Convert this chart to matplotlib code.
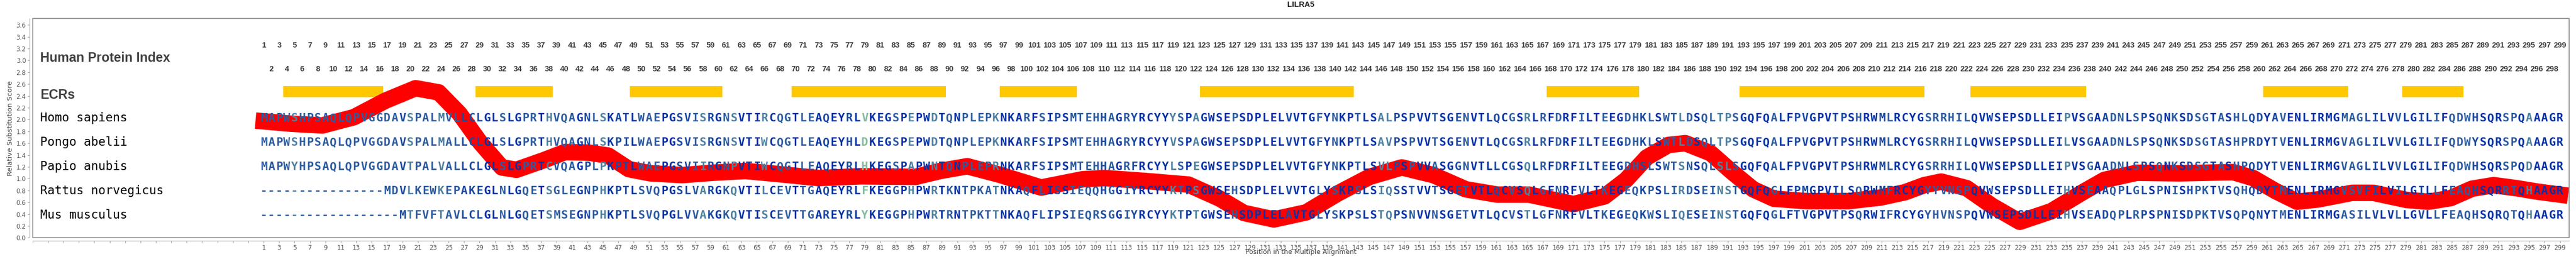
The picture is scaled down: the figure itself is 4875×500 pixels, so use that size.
import matplotlib
matplotlib.use('Agg')
import matplotlib.pyplot as plt
from matplotlib.patches import Rectangle
from collections import Counter

# ---------------- data ----------------
title = 'LILRA5'
species = ['Homo sapiens', 'Pongo abelii', 'Papio anubis', 'Rattus norvegicus', 'Mus musculus']

seq_homo = ''.join([
    'MAPWSHPSAQLQPVGGDAVSPALMVLLCLGLSLGPRTHVQAGN',
    'LSKATLWAEPGSVISRGNSVTIRCQGTLEAQEYRLVKEGSPE',
    'PWDTQNPLEPKNKARFSIPSMTEHHAGRYRCYYYSPAGWSEPS',
    'DPLELVVTGFYNKPTLSALPSPVVTSGENVTLQCGSRLRFDRF',
    'ILTEEGDHKLSWTLDSQLTPSGQFQALFPVGPVTPSHRWMLR',
    'CYGSRRHILQVWSEPSDLLEIPVSGAADNLSPSQNKSDSGTAS',
    'HLQDYAVENLIRMGMAGLILVVLGILIFQDWHSQRSPQAAAGR'])
seq_pongo = ''.join([
    'MAPWSHPSAQLQPVGGDAVSPALMALLCLGLSLGPRTHVQAGN',
    'LSKPILWAEPGSVISRGNSVTIWCQGTLEAQEYHLDKEGSPE',
    'PWDTQNPLEPKNKARFSIPSMTEHHAGRYRCYYVSPAGWSEPS',
    'DPLELVVTGFYNKPTLSAVPSPVVTSGENVTLQCGSRLRFDRF',
    'ILTEEGDHKLSWTLDSQLTPSGQFQALFPVGPVTPSHRWMLR',
    'CYGSRRHILQVWSEPSDLLEILVSGAADNLSPSQNKSDSGTAS',
    'HPRDYTVENLIRMGVAGLILVVLGILIFQDWYSQRSPQAAAGR'])
seq_papio = ''.join([
    'MAPWYHPSAQLQPVGGDAVTPALVALLCLGLSLGPRTCVQAGP',
    'LPKPTLWAEPGSVIIRGNPVTIWCQGTLEAQEYRLHKEGSPA',
    'PWNTQNPLEPRNKARFSIPSMTEHHAGRFRCYYLSPEGWSEPS',
    'DPLELVVTGFYNKPTLSVLPSPVVASGGNVTLLCGSQLRFDRF',
    'ILTEEGDHSLSWTSNSQLSLSGQFQALFPVGPVTPSHRWMLR',
    'CYGSRRHILQVWSEPSDLLEIPVSGAADNLSPSQNKSDSGTAS',
    'HPQDYTVENLIRMGVAGLILVVLGILIFQDWHSQRSPQDAAGR'])
seq_rattus = ''.join([
    '----------------MDVLKEWKEPAKEGLNLGQETSGLEGN',
    'PHKPTLSVQPGSLVARGKQVTILCEVTTGAQEYRLFKEGGPH',
    'PWRTKNTPKATNKAQFLISSIEQQHGGIYRCYYKTPSGWSEHS',
    'DPLELVVTGLYSKPSLSIQSSTVVTSGETVTLQCVSQLGFNRF',
    'VLTKEGEQKPSLIRDSEINSTGQFQGLFPMGPVILSQRWMFR',
    'CYGYYVNSPQVWSEPSDLLEIHVSEAAQPLGLSPNISHPKTVS',
    'QHQDYTMENLIRMGVSVFILVILGILLFEAQHSQRRTQHAAGR'])
seq_mus = ''.join([
    '------------------MTFVFTAVLCLGLNLGQETSMSEGN',
    'PHKPTLSVQPGLVVAKGKQVTISCEVTTGAREYRLYKEGGPH',
    'PWRTRNTPKTTNKAQFLIPSIEQRSGGIYRCYYKTPTGWSEHS',
    'DPLELAVTGLYSKPSLSTQPSNVVNSGETVTLQCVSTLGFNRF',
    'VLTKEGEQKWSLIQESEINSTGQFQGLFTVGPVTPSQRWIFR',
    'CYGYHVNSPQVWSEPSDLLEIHVSEADQPLRPSPNISDPKTVS',
    'QPQNYTMENLIRMGASILVLVLLGVLLFEAQHSQRQTQHAAGR'])
sequences = [seq_homo, seq_pongo, seq_papio, seq_rattus, seq_mus]

ecr_start = [4, 29, 49, 70, 97, 123, 168, 193, 223, 261, 279]
ecr_end = [16, 38, 60, 89, 106, 142, 179, 216, 237, 271, 286]

score_pos = [1, 4.5, 8.6, 12.7, 16.8, 20.7, 23.7, 26.4, 29.1, 31.9, 33.8, 37.3, 40.1,
             43.2, 45.7, 48.4, 51.2, 55.3, 59.3, 63.5, 67.6, 73, 78.5, 85.6, 88.8,
             92.3, 96.4, 101.9, 107.3, 110.1, 115.5, 121, 125.1, 128.2, 132.1, 136.3,
             140.4, 144.5, 148.7, 152.8, 157, 161.1, 165.2, 171, 175, 177.8, 180.5,
             183.3, 185.5, 188.8, 191.5, 194.3, 197, 201.2, 206.7, 210.8, 214, 216.5,
             218.7, 222, 225.3, 228.9, 233, 237.2, 239.9, 244.1, 249.6, 256.6, 259.2,
             262.1, 264.9, 267.7, 272, 274.8, 279.1, 281.9, 284.8, 287.6, 290.4, 293.3,
             296.1, 299]
score_val = [1.97, 1.93, 1.90, 2.04, 2.32, 2.53, 2.46, 2.10, 1.61, 1.19, 1.15, 1.31, 1.45,
             1.44, 1.39, 1.16, 1.09, 1.06, 1.10, 1.13, 1.08, 1.01, 1.04, 1.03, 1.13,
             1.21, 1.07, 0.85, 0.99, 1.01, 0.96, 0.90, 0.66, 0.42, 0.31, 0.43,
             0.75, 1.03, 1.19, 1.06, 0.82, 0.73, 0.73, 0.57, 0.70, 0.98, 1.36,
             1.57, 1.60, 1.43, 1.12, 0.82, 0.66, 0.62, 0.62, 0.68, 0.77, 0.89,
             0.95, 0.84, 0.54, 0.27, 0.45, 0.78, 0.98, 1.10, 1.09, 1.11, 1.01,
             0.79, 0.61, 0.65, 0.76, 0.76, 0.64, 0.61, 0.67, 0.83, 0.89, 0.84,
             0.78, 0.73]

n_cols = len(seq_homo)
for s in sequences:
    assert len(s) == n_cols, len(s)

# ---------------- layout / style ----------------
W, H = 4875, 500
L_px, R_px, T_px, B_px = 61.7, 4862.0, 35.0, 450.3
row_base = [1.965, 1.555, 1.145, 0.735, 0.325]
idx_base = [3.22, 2.815]
label_x = -28.0
palette = {5: '#0532A6', 4: '#1C4AA0', 3: '#2D5C9F', 2: '#4F81A0', 1: '#86B9A0'}

fig = plt.figure(figsize=(W / 100, H / 100), dpi=100)
ax = fig.add_axes([L_px / W, 1 - B_px / H, (R_px - L_px) / W, (B_px - T_px) / H])
ax.set_xlim(-29, 300.2)
ax.set_ylim(0, 3.71)

# ECR bars
for s, e in zip(ecr_start, ecr_end):
    ax.add_patch(Rectangle((s - 0.5, 2.38), e - s + 1, 0.19, facecolor='#FFC800',
                           edgecolor='none', zorder=1))

# substitution score curve
ax.plot(score_pos, score_val, color='#FF0000', lw=22.5, solid_capstyle='projecting',
        solid_joinstyle='round', zorder=2)

# column conservation colours
col_colors = []
for j in range(n_cols):
    chars = [s[j] for s in sequences if s[j] != '-']
    m = Counter(chars).most_common(1)[0][1] if chars else 1
    col_colors.append(palette[m])

# alignment letters
for r, s in enumerate(sequences):
    for j, ch in enumerate(s):
        ax.text(j + 1, row_base[r], ch, ha='center', va='baseline', fontsize=15.5,
                fontweight='bold', family='DejaVu Sans Mono', color=col_colors[j],
                zorder=3)

# human protein index
hidx = 0
for j, ch in enumerate(seq_homo):
    if ch == '-':
        continue
    hidx += 1
    yb = idx_base[0] if hidx % 2 == 1 else idx_base[1]
    ax.text(j + 1, yb, str(hidx), ha='center', va='baseline', fontsize=10.5,
            fontweight='bold', family='Liberation Sans', color='#3C3C3C', zorder=3)

# row labels
ax.text(label_x, 2.976, 'Human Protein Index', ha='left', va='baseline', fontsize=17.7,
        fontweight='bold', family='Liberation Sans', color='#404040', zorder=4)
ax.text(label_x, 2.356, 'ECRs', ha='left', va='baseline', fontsize=17.7,
        fontweight='bold', family='Liberation Sans', color='#404040', zorder=4)
for r, name in enumerate(species):
    ax.text(label_x, row_base[r], name, ha='left', va='baseline', fontsize=16.4,
            family='DejaVu Sans Mono', color='black', zorder=4)

# axes styling
for side in ['top', 'right']:
    ax.spines[side].set_visible(False)
for side in ['left', 'bottom']:
    ax.spines[side].set_position(('outward', 4))
    ax.spines[side].set_color('#B4B4B4')
    ax.spines[side].set_linewidth(1.0)
ax.add_patch(Rectangle((0, 0), 1, 1, transform=ax.transAxes, fill=False,
                       edgecolor='#8A8A8A', lw=1.2, clip_on=False, zorder=6))

xt = list(range(-29, 300, 2))
ax.set_xticks(xt)
ax.set_xticklabels([str(t) if t > 0 else '' for t in xt])
yt = [round(0.2 * i, 1) for i in range(19)]
ax.set_yticks(yt)
ax.set_yticklabels(['%.1f' % v for v in yt])
ax.tick_params(axis='both', direction='out', length=3, width=0.8, color='#A0A0A0',
               labelsize=8.5, labelcolor='#555555', pad=2)
for lab in ax.get_xticklabels() + ax.get_yticklabels():
    lab.set_family('DejaVu Sans')

cx = (L_px + R_px) / 2 / W
fig.text(cx, 1 - 9 / H, title, ha='center', va='center', fontsize=10.5,
         fontweight='bold', family='Liberation Sans', color='#222222')
fig.text(cx, 1 - 478 / H, 'Position in the Multiple Alignment', ha='center',
         va='center', fontsize=9, family='DejaVu Sans', color='#444444')
fig.text(20 / W, 1 - (T_px + B_px) / 2 / H, 'Relative Substitution Score', rotation=90,
         ha='center', va='center', fontsize=9.5, family='DejaVu Sans', color='#444444')

fig.savefig('out.png', dpi=100, facecolor='white')
